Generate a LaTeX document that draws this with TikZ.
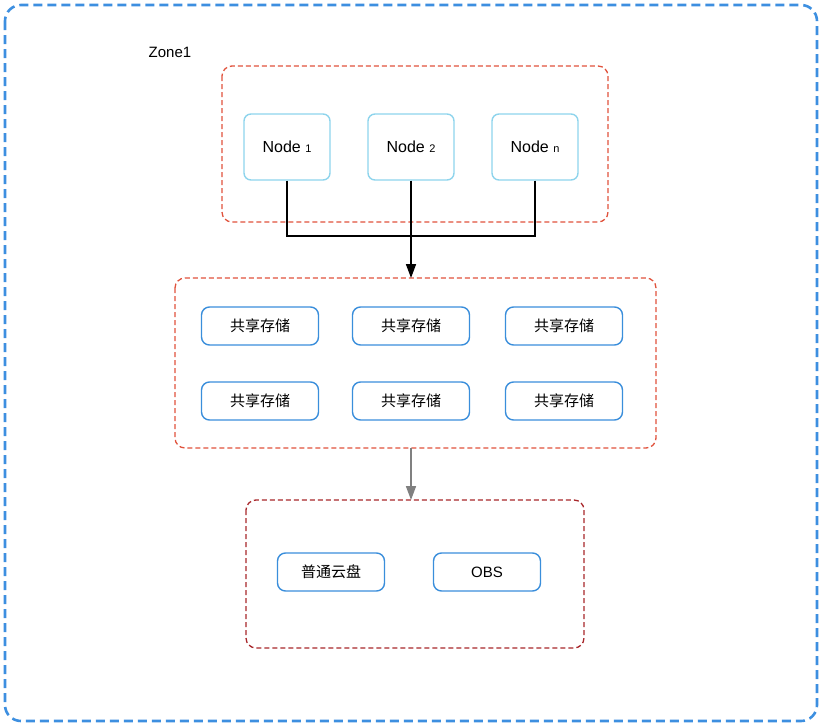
\documentclass[tikz,border=0pt]{standalone}
\usepackage{fontspec}
\setmainfont{Liberation Sans}
\newfontfamily\cjk{Noto Sans CJK SC}
\usetikzlibrary{arrows.meta}
\definecolor{zb}{HTML}{3D8FE0}
\definecolor{rd}{HTML}{E0523C}
\definecolor{drd}{HTML}{A8262A}
\definecolor{lb}{HTML}{8ED4EC}
\definecolor{sb}{HTML}{3A8EDB}
\begin{document}
\begin{tikzpicture}[x=1pt,y=-1pt,
  grp/.style={dashed,dash pattern=on 5pt off 3pt,rounded corners=10pt,line width=1.3pt},
  nd/.style={draw=lb,line width=1.4pt,rounded corners=7pt,minimum width=86pt,minimum height=66pt,font=\fontsize{16}{19}\selectfont},
  st/.style={draw=sb,line width=1.4pt,rounded corners=8pt,minimum width=117pt,minimum height=38pt,font=\cjk\fontsize{15}{18}\selectfont},
  cn/.style={line width=1.6pt}]
\useasboundingbox (0,0) rectangle (822,726);
\draw[grp,draw=zb,line width=2.6pt,dash pattern=on 9pt off 5pt,rounded corners=16pt] (5,5) rectangle (817,721);
\node[font=\fontsize{15}{18}\selectfont] (zl) at (170,52) {Zone1};
\draw[grp,draw=rd] (222,66) rectangle (608,222);
\node[nd] (n1) at (287,147) {Node {\fontsize{11}{13}\selectfont 1}};
\node[nd] (n2) at (411,147) {Node {\fontsize{11}{13}\selectfont 2}};
\node[nd] (n3) at (535,147) {Node {\fontsize{11}{13}\selectfont n}};
\draw[grp,draw=rd] (175,278) rectangle (656,448);
\foreach \i/\x in {1/260,2/411,3/564}{
  \node[st] (a\i) at (\x,326) {共享存储};
  \node[st] (b\i) at (\x,401) {共享存储};}
\coordinate (t) at (411,278);
\draw[cn] (n1.south) |- (411,236);
\draw[cn] (n3.south) |- (411,236);
\draw[cn,-{Triangle[length=14pt,width=10pt]}] (n2.south) -- (t);
\draw[grp,draw=drd] (246,500) rectangle (584,648);
\node[st,minimum width=107pt] (c1) at (331,572) {普通云盘};
\node[st,minimum width=107pt,font=\fontsize{15}{18}\selectfont] (c2) at (487,572) {OBS};
\coordinate (b) at (411,500);
\draw[line width=1.6pt,draw=gray,-{Triangle[length=14pt,width=10pt]}] (411,448) -- (b);
\end{tikzpicture}
\end{document}
